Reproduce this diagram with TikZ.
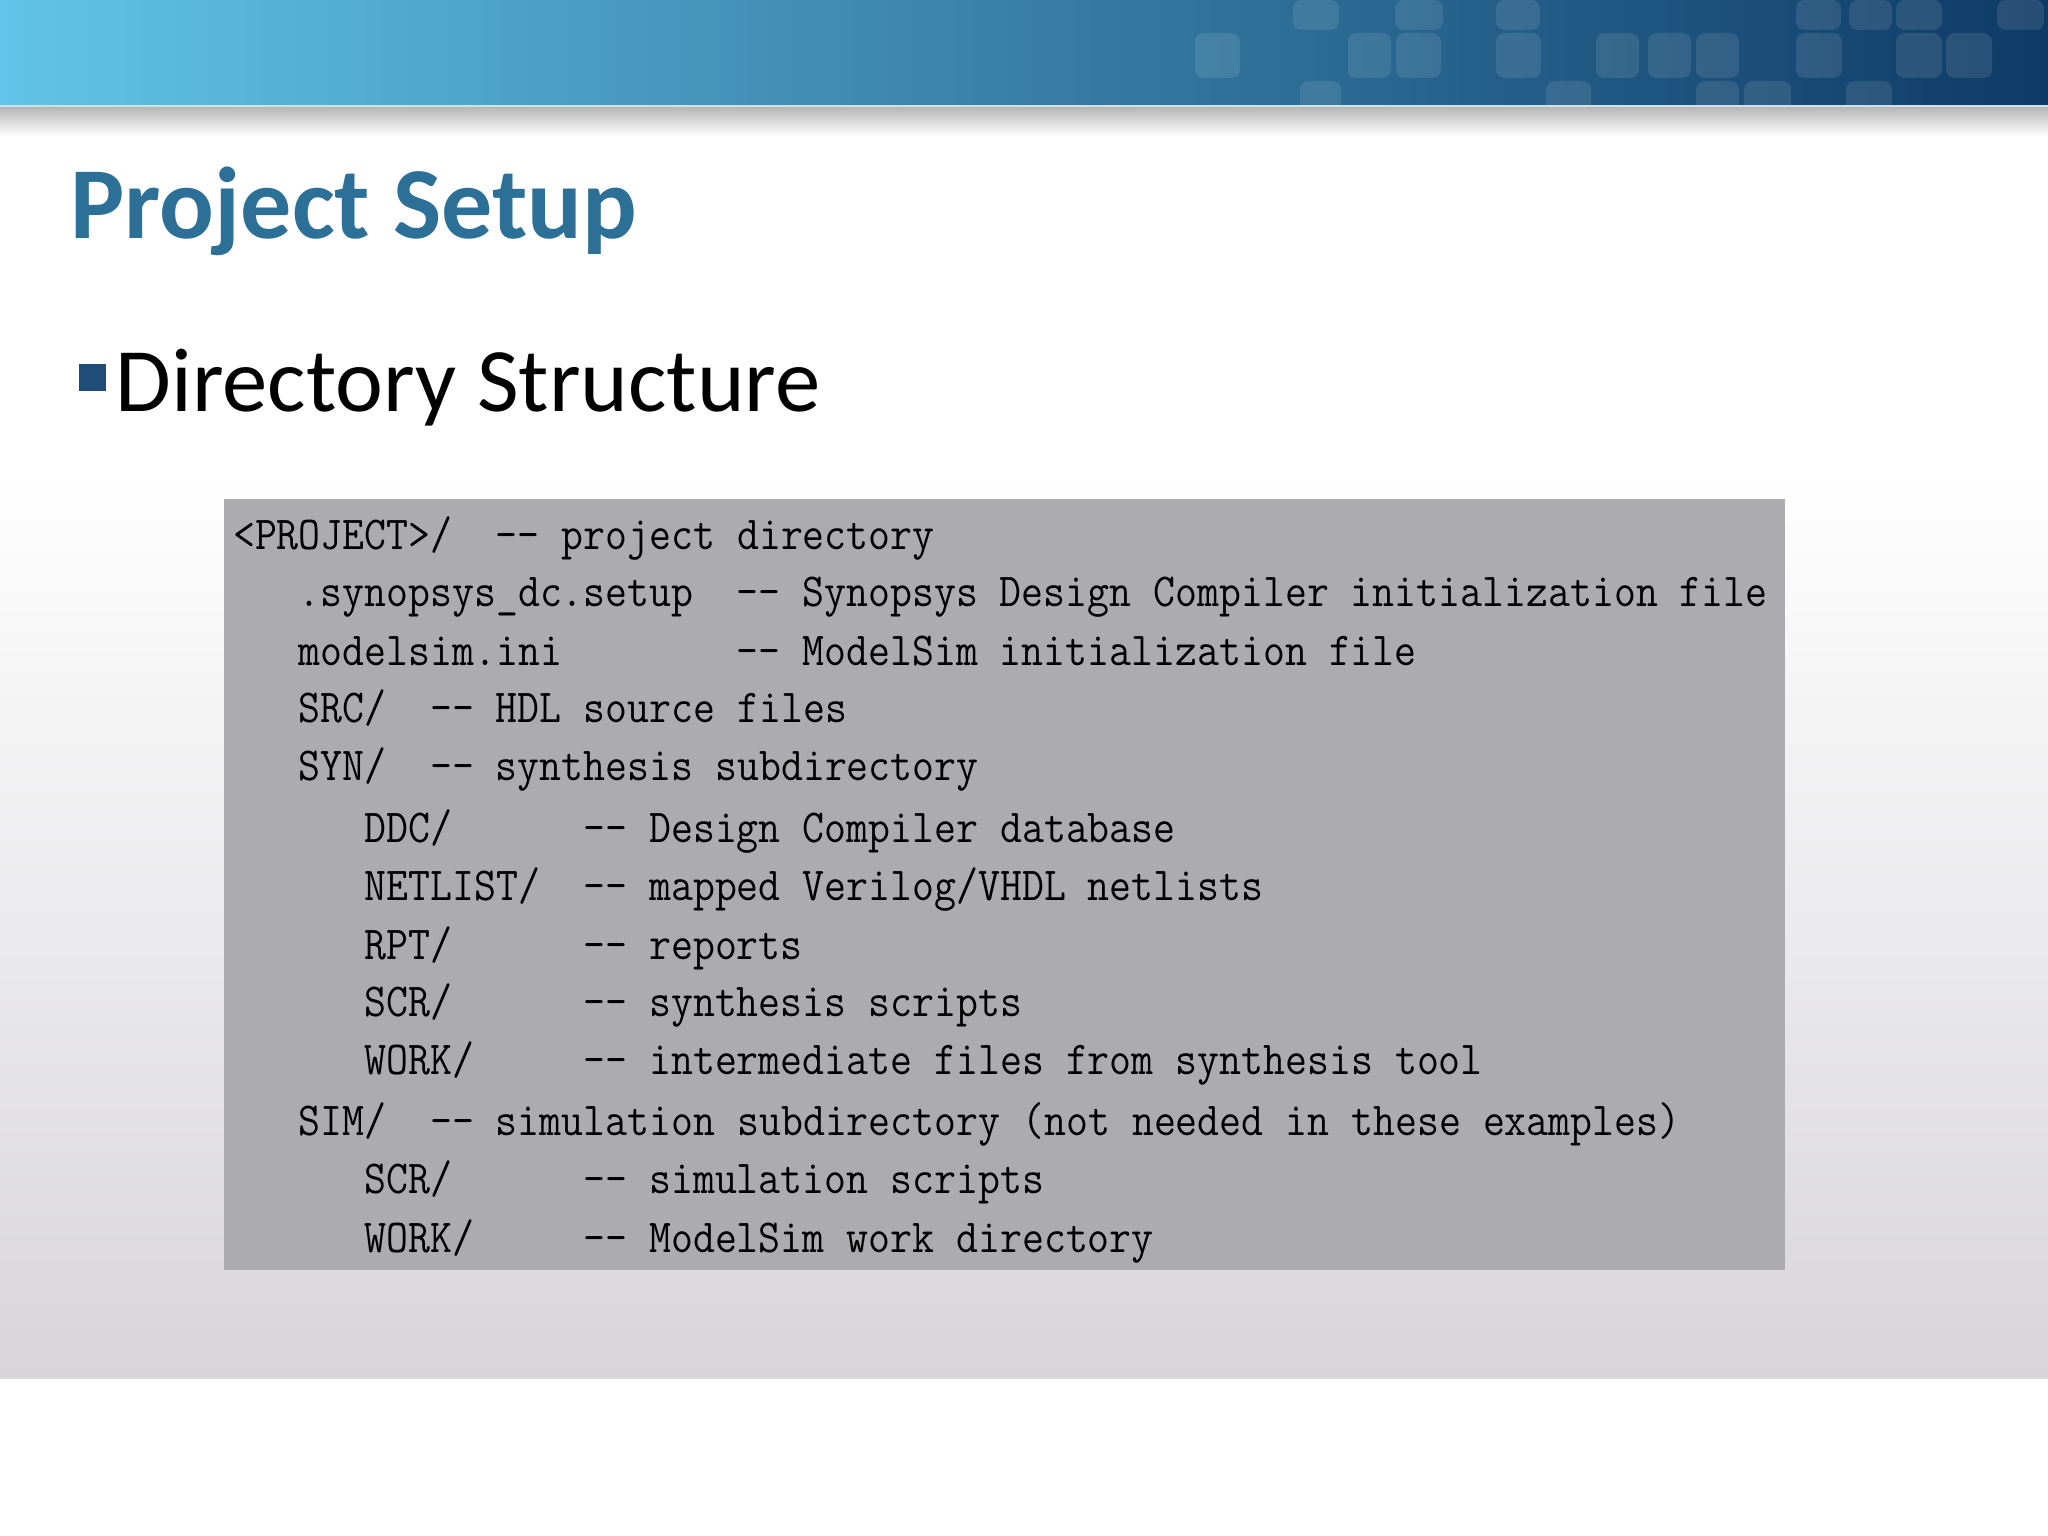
\documentclass[tikz,border=0pt]{standalone}
\usepackage{graphicx}
\usepackage{xcolor}
\usepackage{fontspec}
\setmainfont{Carlito}
\usepackage{tikz}

\definecolor{titleblue}{RGB}{44,111,151}
\definecolor{bulletblue}{RGB}{31,77,120}
\definecolor{boxgray}{RGB}{172,171,174}
\definecolor{slidegray}{RGB}{215,213,217}
\definecolor{hdrleft}{RGB}{98,196,232}
\definecolor{hdrmid}{RGB}{52,122,162}
\definecolor{hdrright}{RGB}{14,58,102}
\definecolor{hdrline}{RGB}{205,225,236}

\newcommand{\dirfont}{\fontsize{15.03}{16}\selectfont\ttfamily}
\newcommand{\tall}[1]{\scalebox{1}[1.11]{#1}}

\tikzset{
  dirtext/.style={anchor=base west, inner sep=0pt, font=\dirfont, text=black},
  hdrblock/.style={fill=white, fill opacity=0.1, rounded corners=3pt},
}

\begin{document}
\begin{tikzpicture}[line cap=round,line join=round,x=0.35288pt,y=-0.35288pt]
			\useasboundingbox (0,0) rectangle (2048,1536);
			\fill [white] (0,0) rectangle (2048,1536);
			% header band
			\shade [left color=hdrleft,middle color=hdrmid,right color=hdrright] (0,0) rectangle (2048,105);
			\fill [hdrblock] (1293,0) rectangle (1339,30) (1395,0) rectangle (1443,30) (1496,0) rectangle (1540,30) (1796,0) rectangle (1841,30) (1849,0) rectangle (1892,30) (1896,0) rectangle (1942,30) (1997,0) rectangle (2044,30);
			\fill [hdrblock] (1195,33) rectangle (1240,78) (1348,33) rectangle (1391,78) (1396,33) rectangle (1441,78) (1496,33) rectangle (1541,78) (1596,33) rectangle (1639,78) (1648,33) rectangle (1691,78) (1696,33) rectangle (1739,78) (1796,33) rectangle (1842,78) (1896,33) rectangle (1942,78) (1946,33) rectangle (1992,78);
			\fill [hdrblock] (1300,81) rectangle (1341,112) (1546,81) rectangle (1591,112) (1696,81) rectangle (1739,112) (1744,81) rectangle (1791,112) (1846,81) rectangle (1892,112);
			\fill [white] (0,105) rectangle (2048,135);
			\fill [hdrline] (0,105) rectangle (2048,108);
			\shade [top color=gray!55,bottom color=white] (0,108) rectangle (2048,136);
			% slide background
			\shade [top color=white,bottom color=slidegray] (0,470) rectangle (2048,1378);
			% title and bullet
			\node [anchor=base west,inner sep=0pt,text=titleblue,font=\fontsize{36}{40}\selectfont\bfseries] (title) at (70,239) {Project Setup};
			\fill [bulletblue] (79,364) rectangle (106,391);
			\node [anchor=base west,inner sep=0pt,text=black,font=\fontsize{32}{36}\selectfont] (bullet) at (115,411) {Directory Structure};
			% directory listing
			\fill [boxgray] (224,499) rectangle (1785,1270);
			\node [dirtext] (proj) at (232.5,549) {\tall{<PROJECT>/}};
			\node [dirtext] (projc) at (495.3,549) {\tall{-{}- project directory}};
			\node [dirtext] (setup) at (298.2,606) {\tall{.synopsys\_dc.setup}};
			\node [dirtext] (setupc) at (736.2,606) {\tall{-{}- Synopsys Design Compiler initialization file}};
			\node [dirtext] (msini) at (298.2,665) {\tall{modelsim.ini}};
			\node [dirtext] (msinic) at (736.2,665) {\tall{-{}- ModelSim initialization file}};
			\node [dirtext] (src) at (298.2,722) {\tall{SRC/}};
			\node [dirtext] (srcc) at (429.6,722) {\tall{-{}- HDL source files}};
			\node [dirtext] (syn) at (298.2,780) {\tall{SYN/}};
			\node [dirtext] (sync) at (429.6,780) {\tall{-{}- synthesis subdirectory}};
			\node [dirtext] (ddc) at (363.9,842) {\tall{DDC/}};
			\node [dirtext] (ddcc) at (582.9,842) {\tall{-{}- Design Compiler database}};
			\node [dirtext] (netl) at (363.9,900) {\tall{NETLIST/}};
			\node [dirtext] (netlc) at (582.9,900) {\tall{-{}- mapped Verilog/VHDL netlists}};
			\node [dirtext] (rpt) at (363.9,959) {\tall{RPT/}};
			\node [dirtext] (rptc) at (582.9,959) {\tall{-{}- reports}};
			\node [dirtext] (synscr) at (363.9,1016) {\tall{SCR/}};
			\node [dirtext] (synscrc) at (582.9,1016) {\tall{-{}- synthesis scripts}};
			\node [dirtext] (synwork) at (363.9,1074) {\tall{WORK/}};
			\node [dirtext] (synworkc) at (582.9,1074) {\tall{-{}- intermediate files from synthesis tool}};
			\node [dirtext] (sim) at (298.2,1135) {\tall{SIM/}};
			\node [dirtext] (simc) at (429.6,1135) {\tall{-{}- simulation subdirectory (not needed in these examples)}};
			\node [dirtext] (simscr) at (363.9,1193) {\tall{SCR/}};
			\node [dirtext] (simscrc) at (582.9,1193) {\tall{-{}- simulation scripts}};
			\node [dirtext] (simwork) at (363.9,1252) {\tall{WORK/}};
			\node [dirtext] (simworkc) at (582.9,1252) {\tall{-{}- ModelSim work directory}};
			\end{tikzpicture}
\end{document}
